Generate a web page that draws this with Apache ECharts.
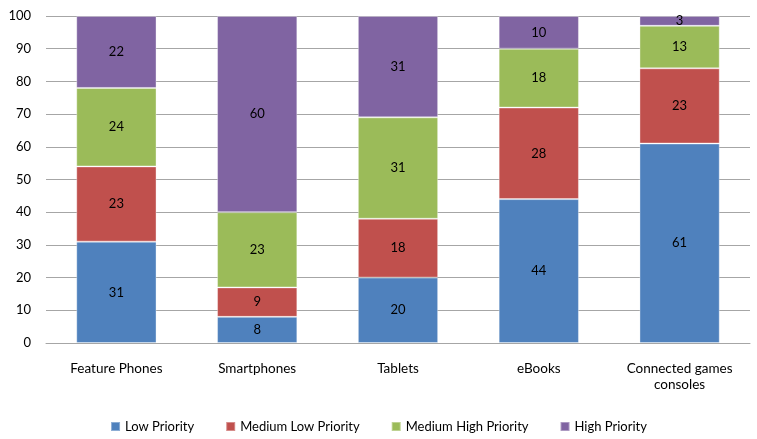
<!DOCTYPE html>
<html>
<head>
<meta charset="utf-8">
<script src="https://cdn.jsdelivr.net/npm/echarts@6/dist/echarts.min.js"></script>
<style>
html, body { margin: 0; padding: 0; background: #fff; }
#chart { width: 757px; height: 439px; }
</style>
</head>
<body>
<div id="chart"></div>
<script>
var categories = ['Feature Phones', 'Smartphones', 'Tablets', 'eBooks', 'Connected games\nconsoles'];
var lowPriority = [31, 8, 20, 44, 61];
var mediumLowPriority = [23, 9, 18, 28, 23];
var mediumHighPriority = [24, 23, 31, 18, 13];
var highPriority = [22, 60, 31, 10, 3];

var chartDom = document.getElementById('chart');
var myChart = echarts.init(chartDom);
var font = 'Lato, "Open Sans", sans-serif';

function makeSeries(name, data, color) {
  return {
    name: name,
    type: 'bar',
    stack: 'total',
    barWidth: '57%',
    data: data,
    itemStyle: { color: color, borderColor: 'rgba(255,255,255,0.35)', borderWidth: 1 },
    label: {
      show: true,
      position: 'inside',
      color: '#000',
      fontFamily: font,
      fontSize: 13
    }
  };
}

var option = {
  animation: false,
  grid: { left: 46, right: 7, top: 16, bottom: 96 },
  legend: {
    bottom: 1,
    itemWidth: 9,
    itemHeight: 9,
    itemGap: 31,
    icon: 'rect',
    textStyle: { fontFamily: font, fontSize: 13, color: '#000' }
  },
  xAxis: {
    type: 'category',
    data: categories,
    axisTick: { show: false },
    axisLine: { lineStyle: { color: '#a6a6a6' } },
    axisLabel: { color: '#000', fontFamily: font, fontSize: 13.5, margin: 18, lineHeight: 16 }
  },
  yAxis: {
    type: 'value',
    min: 0,
    max: 100,
    interval: 10,
    axisLine: { show: false },
    axisTick: { show: false },
    splitLine: { lineStyle: { color: '#a6a6a6' } },
    axisLabel: { color: '#000', fontFamily: font, fontSize: 13, margin: 15 }
  },
  series: [
    makeSeries('Low Priority', lowPriority, '#4F81BD'),
    makeSeries('Medium Low Priority', mediumLowPriority, '#C0504D'),
    makeSeries('Medium High Priority', mediumHighPriority, '#9BBB59'),
    makeSeries('High Priority', highPriority, '#8064A2')
  ]
};

option && myChart.setOption(option);
</script>
</body>
</html>
